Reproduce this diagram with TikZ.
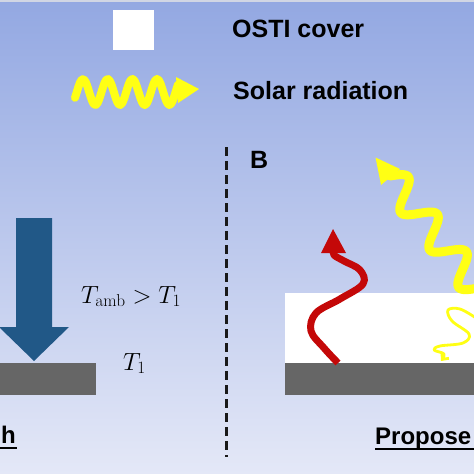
\documentclass[tikz,border=0pt]{standalone}
\usepackage[no-math]{fontspec}
\setmainfont{Liberation Sans}
\usetikzlibrary{arrows.meta}
\definecolor{bgtop}{RGB}{147,168,226}
\definecolor{bgmid}{RGB}{190,202,238}
\definecolor{bgbot}{RGB}{228,232,247}
\definecolor{yel}{RGB}{255,255,20}
\definecolor{darkblue}{RGB}{33,88,135}
\definecolor{slab}{RGB}{102,102,102}
\definecolor{redwave}{RGB}{196,8,8}
\begin{document}
\begin{tikzpicture}[x=1pt,y=-1pt,
  lbl/.style={inner sep=0pt,font=\fontsize{25}{30}\selectfont\bfseries},
  mth/.style={inner sep=0pt,font=\fontsize{25}{30}\selectfont},
  ywave/.style={draw=yel,line cap=round,line join=round},
  uline/.style={line width=1.8pt,black}]
\useasboundingbox (0,0) rectangle (474,474);
\clip (0,0) rectangle (474,474);
\shade[top color=bgtop, middle color=bgmid, bottom color=bgbot] (0,0) rectangle (474,474);
\fill[bgtop!60!gray!40!white] (0,0) rectangle (474,2);
% legend
\node[fill=white,minimum width=41pt,minimum height=40pt,inner sep=0pt] (cover) at (133.5,30) {};
\node[lbl,anchor=base west] (coverlbl) at (232,37) {OSTI cover};
\draw[ywave,line width=8pt] plot[domain=75:178,samples=60,smooth] (\x,{92-13*sin((\x-76.8)*14.575)});
\fill[yel] (176,77) -- (199,89) -- (178,103) -- cycle;
\node[lbl,anchor=base west] (sollbl) at (233,99) {Solar radiation};
% separator
\draw[line width=3pt,dash pattern=on 9pt off 5pt,black!90] (226,147) -- (226,457);
% left panel
\fill[darkblue] (16,218) -- (52,218) -- (52,327) -- (69,327) -- (34,361) -- (-1,327) -- (16,327) -- cycle;
\fill[slab] (0,363) rectangle (96,395);
\node[mth,anchor=base west] (tamb) at (81,303) {$T_{\mathrm{amb}} > T_1$};
\node[mth,anchor=base west] (tone) at (123,370) {$T_1$};
\node[lbl,anchor=base west,font=\fontsize{24}{28}\selectfont\bfseries] (hlbl) at (1,443) {h};
\draw[uline] (0,448) -- (17,448);
% right panel
\node[lbl,anchor=base west] (blbl) at (250,168) {B};
\fill[white] (285,293) rectangle (474,363);
\fill[slab] (285,363) rectangle (474,395);
% red wave
\draw[redwave,line width=7pt,line join=round] plot[smooth,tension=0.6] coordinates {(338,363) (324,348) (311,331) (316,313) (340,299) (363,284) (360,270) (344,261) (334,255) (333,249)};
\fill[redwave] (321,253) -- (333,229) -- (346,253) -- cycle;
% big yellow wave
\draw[ywave,line width=9pt] plot[domain=0:170,samples=120,smooth] ({390+0.613*\x+14*sin(7.6*\x)*0.790},{176+0.790*\x-14*sin(7.6*\x)*0.613});
\fill[yel] (375.5,157.5) -- (400,169) -- (381,185) -- cycle;
% small yellow wave
\draw[ywave,line width=2.8pt,-{Straight Barb[length=5pt,width=9pt]}] plot[smooth,tension=0.6] coordinates {(476,318) (460,309) (448,310) (452,321) (469,334) (463,343) (440,346) (434,350) (444,354) (441,361)};
% bottom right label
\node[lbl,anchor=base west,font=\fontsize{24}{28}\selectfont\bfseries] (plbl) at (375,444) {Propose};
\draw[uline] (375,449) -- (480,449);
\end{tikzpicture}
\end{document}
